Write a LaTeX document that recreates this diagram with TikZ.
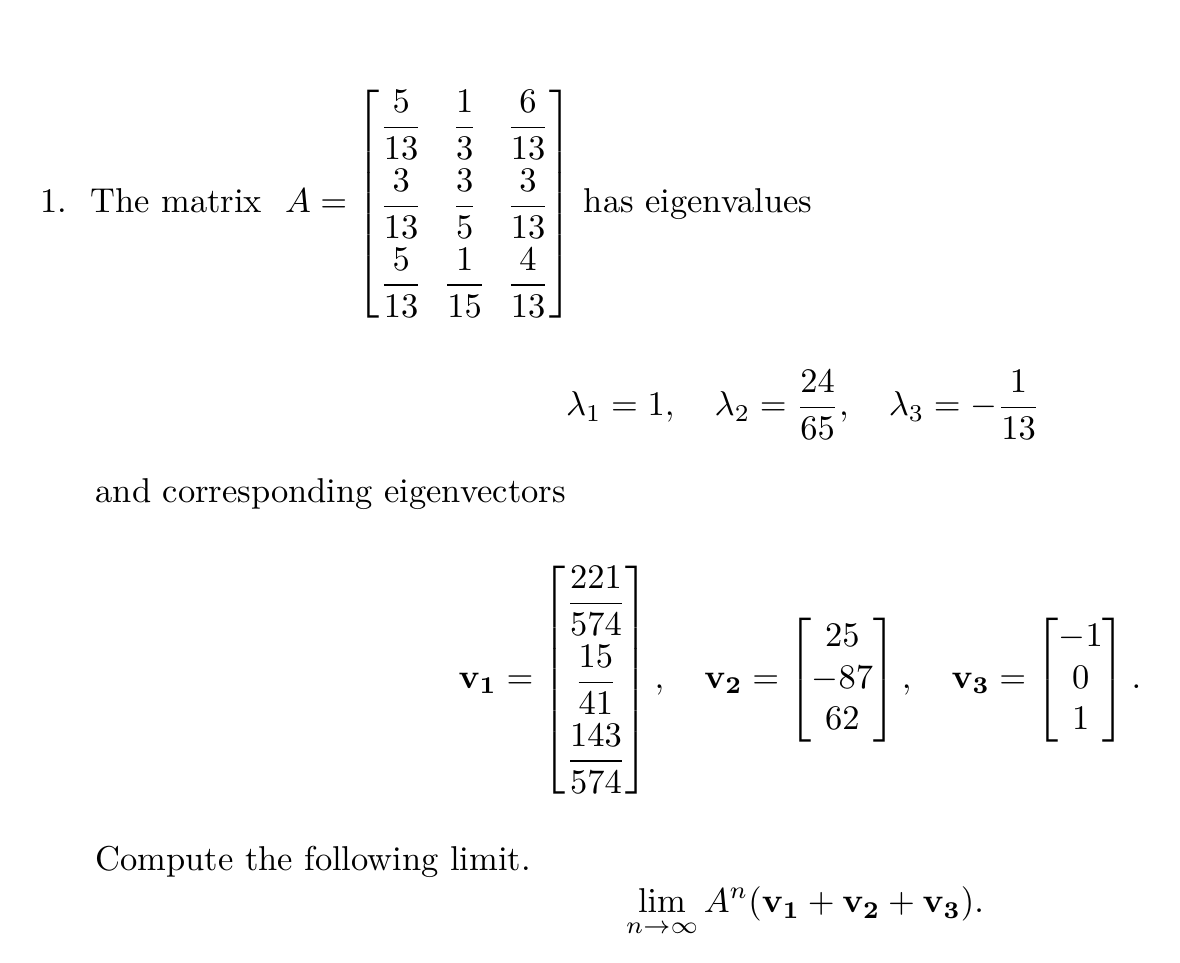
\documentclass[tikz,border=0pt]{standalone}
\usepackage{amsmath}
\begin{document}
\begin{tikzpicture}[x=0.29pt,y=-0.29pt,txt/.style={inner sep=0pt}]
\useasboundingbox (0,0) rectangle (1180,962);
\setlength{\arraycolsep}{3pt}
\node[txt,anchor=west] (l1) at (40,204) {1.\ \ The matrix\ \ $A=\begin{bmatrix}\dfrac{5}{13}&\dfrac{1}{3}&\dfrac{6}{13}\\[6pt] \dfrac{3}{13}&\dfrac{3}{5}&\dfrac{3}{13}\\[6pt] \dfrac{5}{13}&\dfrac{1}{15}&\dfrac{4}{13}\end{bmatrix}$ has eigenvalues};
\node[txt] (ev) at (803,405) {$\displaystyle\lambda_1=1,\quad \lambda_2=\frac{24}{65},\quad \lambda_3=-\frac{1}{13}$};
\node[txt,anchor=west] (l2) at (95,494) {and corresponding eigenvectors};
\node[txt,anchor=west] (vec) at (458,680) {$\setlength{\arraycolsep}{3pt}\mathbf{v_1}=\begin{bmatrix}\dfrac{221}{574}\\[6pt] \dfrac{15}{41}\\[6pt] \dfrac{143}{574}\end{bmatrix},\quad \mathbf{v_2}=\begin{bmatrix}25\\-87\\62\end{bmatrix},\quad \mathbf{v_3}=\begin{bmatrix}-1\\0\\1\end{bmatrix}.$};
\node[txt,anchor=west] (l3) at (95,862) {Compute the following limit.};
\node[txt] (lim) at (805,912) {$\displaystyle\lim_{n\to\infty}A^n(\mathbf{v_1}+\mathbf{v_2}+\mathbf{v_3}).$};
\end{tikzpicture}
\end{document}
